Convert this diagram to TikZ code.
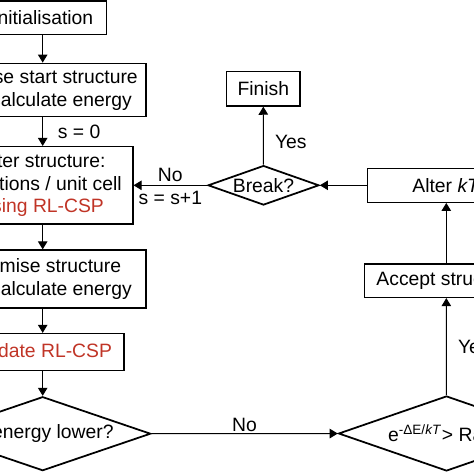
\documentclass[tikz,border=0pt]{standalone}
\usepackage{fontspec}
\setmainfont{Liberation Sans}
\usetikzlibrary{shapes.geometric,arrows.meta}
\definecolor{cspred}{RGB}{192,52,38}
\begin{document}
\begin{tikzpicture}[x=0.02cm,y=-0.02cm,
  font=\fontsize{11}{12.8}\selectfont,
  box/.style={draw, line width=0.7pt, inner sep=0pt, align=center},
  decision/.style={diamond, draw, line width=1pt, inner sep=0pt, shape aspect=2.8, align=center},
  flow/.style={line width=0.6pt, -{Triangle[length=4.6pt,width=5.4pt]}}]
\clip (0,0) rectangle (474,474);
% left column
\node[box, minimum width=2.54cm, minimum height=0.67cm] (init) at (42.7,17.7){Initialisation};
\node[box, minimum width=4.13cm, minimum height=1.07cm] (choose) at (42.7,90){Choose start structure\\and calculate energy};
\node[box, minimum width=3.61cm, minimum height=1.55cm] (alter) at (42.7,185.3){Alter structure:\\positions / unit cell\\\textcolor{cspred}{using RL-CSP}};
\node[box, minimum width=4.13cm, minimum height=1.16cm] (optim) at (42.7,279){Optimise structure\\and calculate energy};
\node[box, minimum width=3.25cm, minimum height=0.74cm] (update) at (42.7,352){\textcolor{cspred}{Update RL-CSP}};
\node[decision, minimum width=4.32cm, minimum height=1.48cm] (energy) at (42.7,433.7){Is energy lower?};
% right part
\node[decision, minimum width=2.22cm, minimum height=0.79cm] (brk) at (263.5,185.3){Break?};
\node[box, minimum width=1.47cm, minimum height=0.69cm] (finish) at (263.3,88.8){Finish};
\node[box, minimum width=3.16cm, minimum height=0.68cm] (alterkt) at (446.3,185.3){Alter \textit{kT}};
\node[box, minimum width=3.26cm, minimum height=0.67cm] (accept) at (446.3,280.7){Accept structure};
\node[decision, minimum width=4.32cm, minimum height=1.5cm] (random) at (446.5,433.5){e\textsuperscript{-ΔE/\textit{kT}}> Rand};
% connectors
\draw[flow] (init) -- (choose);
\draw[flow] (choose) -- node[right=5pt]{s = 0} (alter);
\draw[flow] (alter) -- (optim);
\draw[flow] (optim) -- (update);
\draw[flow] (update) -- (energy);
\draw[flow] (energy) -- node[above, inner sep=1pt]{No} (random);
\draw[flow] (random) -- node[right=3pt]{Yes} (accept);
\draw[flow] (accept) -- (alterkt);
\draw[flow] (alterkt) -- (brk);
\draw[flow] (brk) -- node[pos=0.4, right=3pt]{Yes} (finish);
\draw[flow] (brk) -- node[above, inner sep=1.5pt]{No} node[below]{s = s+1} (alter);
\end{tikzpicture}
\end{document}
